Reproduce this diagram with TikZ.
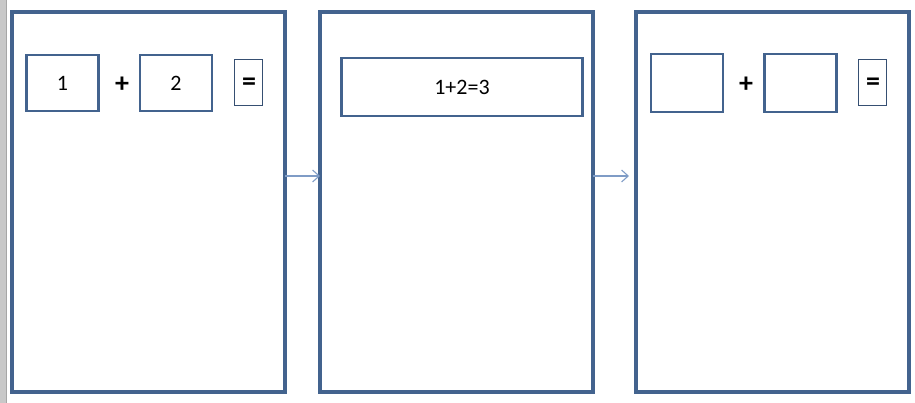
\documentclass[tikz,border=0pt]{standalone}
\usepackage{fontspec}
\setmainfont{Carlito}
\usetikzlibrary{arrows.meta}
\definecolor{pborder}{HTML}{43638E}
\definecolor{arrowc}{HTML}{7F9CC6}
\definecolor{sidegray}{HTML}{C8C8C8}
\begin{document}
\begin{tikzpicture}[x=0.75pt,y=-0.75pt,
  panel/.style={draw=pborder,line width=2.3pt,fill=white},
  numbox/.style={draw=pborder,line width=2.1pt},
  eqbox/.style={draw=pborder!80!black,line width=0.6pt,minimum width=21.5pt,minimum height=34.5pt},
  flow/.style={draw=arrowc,line width=0.8pt,-{Straight Barb[length=5pt,width=9pt]}},
  txt/.style={font=\fontsize{16.5}{20}\selectfont,inner sep=0pt},
  sym/.style={font=\fontsize{21}{24}\selectfont\bfseries,inner sep=0pt,anchor=base}]
\useasboundingbox (0,0) rectangle (915,403);
\fill[white] (0,0) rectangle (915,403);
\fill[sidegray] (0,0) rectangle (6,403);
\draw[gray!70,line width=0.6pt] (6,0) -- (6,403);
% panels
\draw[panel] (12,12) rectangle (285,392);
\draw[panel] (320,12) rectangle (593,392);
\draw[panel] (636,12) rectangle (909,392);
\coordinate (p1r) at (285,176);
\coordinate (p2l) at (320,176);
\coordinate (p2r) at (593,176);
\coordinate (p3l) at (629,176);
% panel 1
\node[numbox,txt,minimum width=54pt,minimum height=42pt] (a1) at (62.5,83) {1};
\node[sym] (plus1) at (122,93) {+};
\node[numbox,txt,minimum width=54pt,minimum height=42pt] (a2) at (176,83) {2};
\node[eqbox] (eq1) at (248.5,82) {};
\node[sym] (eqs1) at (249,91) {=};
% panel 2
\node[numbox,txt,minimum width=181pt,minimum height=43.5pt] (res) at (462,87) {1+2=3};
% panel 3
\node[numbox,minimum width=54pt,minimum height=43.5pt] (b1) at (687,83) {};
\node[sym] (plus2) at (746,93) {+};
\node[numbox,minimum width=54pt,minimum height=43.5pt] (b2) at (800.5,83) {};
\node[eqbox] (eq2) at (872.5,82) {};
\node[sym] (eqs2) at (873,91) {=};
% arrows
\draw[flow] (p1r) -- (p2l);
\draw[flow] (p2r) -- (p3l);
\end{tikzpicture}
\end{document}
